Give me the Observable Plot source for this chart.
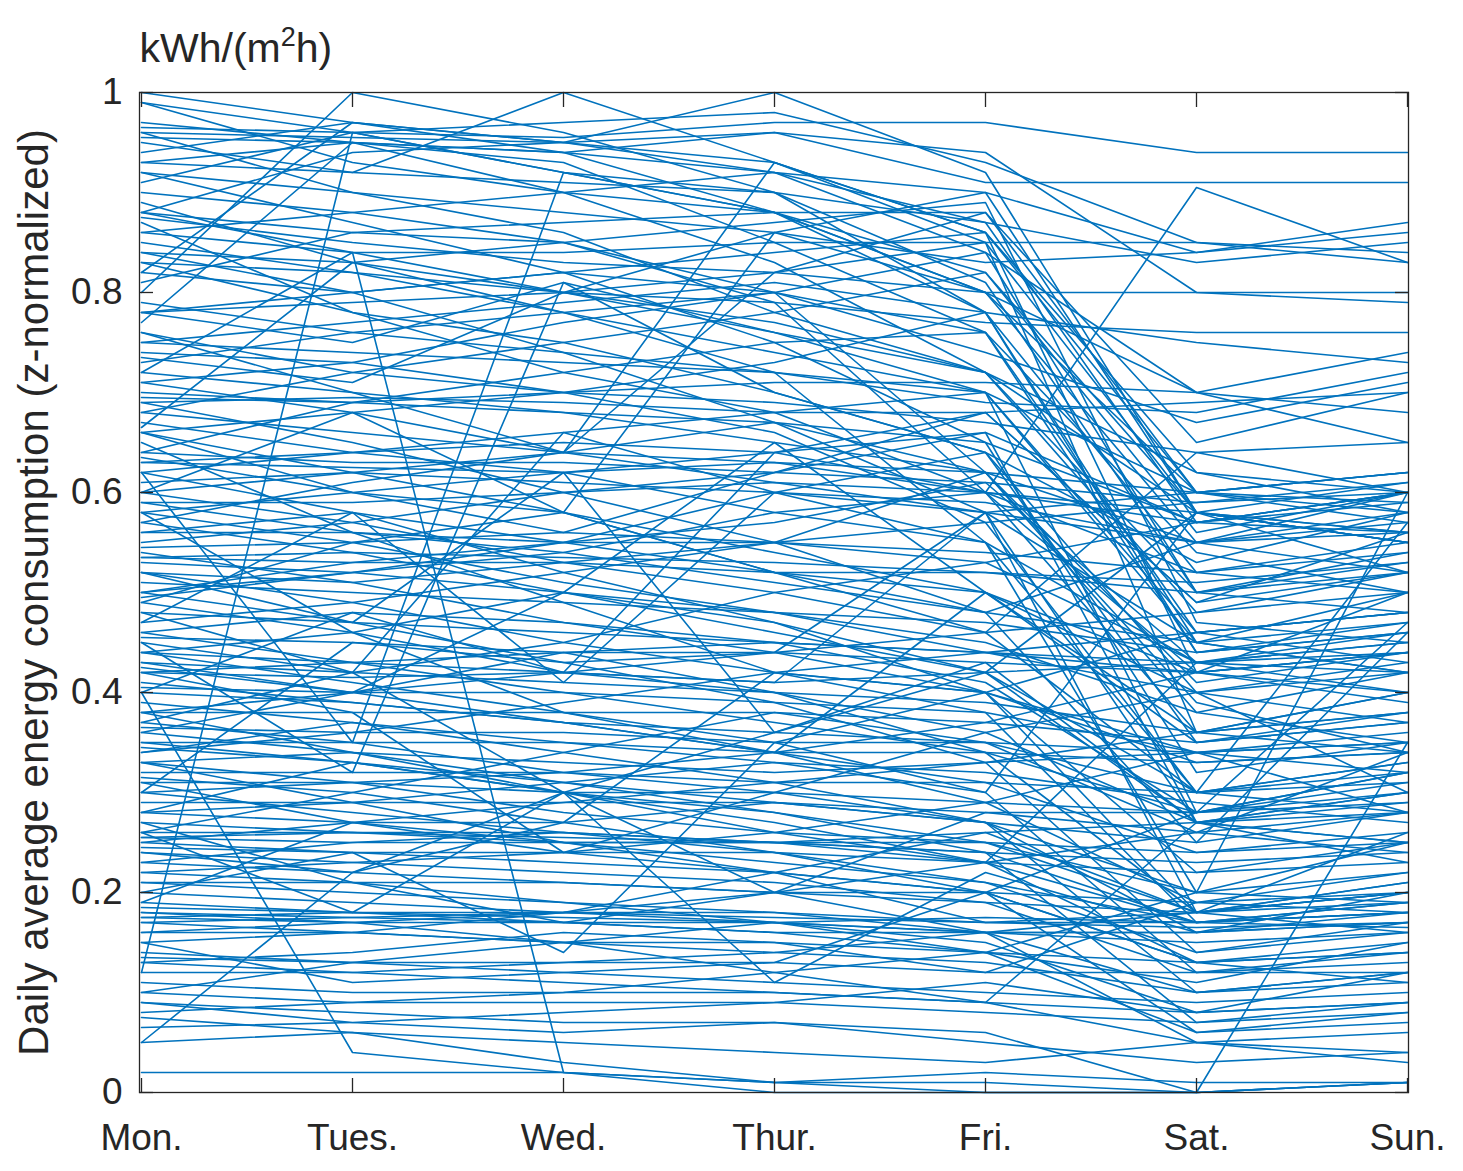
<!DOCTYPE html>
<html>
<head>
<meta charset="utf-8">
<script src="https://cdn.jsdelivr.net/npm/d3@7"></script>
<script src="https://cdn.jsdelivr.net/npm/@observablehq/plot@0.6"></script>
<style>
  html, body { margin: 0; padding: 0; background: #fff; }
  #chart svg { display: block; }
</style>
</head>
<body>
<div id="chart"></div>
<script>
const days = ["Mon.", "Tues.", "Wed.", "Thur.", "Fri.", "Sat.", "Sun."];
const yTicks = [0, 0.2, 0.4, 0.6, 0.8, 1];
const unitParts = ["kWh/(m", "2", "h)"];
const yLabel = "Daily average energy consumption (z-normalized)";

// one row per building: [Mon, Tues, Wed, Thur, Fri, Sat, Sun]
const series = [
  [1.00, 0.97, 0.95, 0.93, 0.86, 0.60, 0.58],
  [0.99, 0.93, 0.90, 0.88, 0.80, 0.55, 0.52],
  [0.965, 0.96, 0.955, 0.97, 0.97, 0.94, 0.94],
  [0.96, 0.955, 0.95, 0.96, 0.91, 0.91, 0.91],
  [0.955, 0.95, 0.94, 0.88, 0.80, 0.70, 0.68],
  [0.95, 0.92, 1.00, 0.93, 0.85, 0.58, 0.56],
  [0.93, 0.95, 0.90, 0.83, 0.72, 0.48, 0.50],
  [0.92, 0.90, 0.88, 0.86, 0.83, 0.84, 0.87],
  [0.91, 0.96, 0.92, 0.90, 0.78, 0.45, 0.42],
  [0.90, 0.88, 0.85, 0.80, 0.62, 0.38, 0.35],
  [0.89, 0.83, 0.80, 0.76, 0.70, 0.60, 0.62],
  [0.88, 0.94, 0.95, 1.00, 0.92, 0.58, 0.55],
  [0.875, 0.85, 0.83, 0.82, 0.80, 0.80, 0.80],
  [0.87, 0.78, 0.72, 0.68, 0.60, 0.42, 0.44],
  [0.86, 0.84, 0.84, 0.85, 0.85, 0.85, 0.84],
  [0.85, 0.82, 0.78, 0.72, 0.55, 0.20, 0.25],
  [0.84, 0.80, 0.74, 0.67, 0.58, 0.27, 0.23],
  [0.83, 0.82, 0.80, 0.79, 0.77, 0.76, 0.76],
  [0.82, 0.97, 0.94, 0.92, 0.87, 0.57, 0.60],
  [0.80, 1.00, 0.96, 0.90, 0.81, 0.50, 0.48],
  [0.79, 0.76, 0.74, 0.72, 0.69, 0.68, 0.72],
  [0.78, 0.75, 0.81, 0.70, 0.64, 0.40, 0.42],
  [0.77, 0.95, 0.93, 0.85, 0.76, 0.44, 0.47],
  [0.76, 0.72, 0.70, 0.69, 0.67, 0.64, 0.65],
  [0.75, 0.74, 0.73, 0.72, 0.70, 0.46, 0.48],
  [0.74, 0.73, 0.70, 0.66, 0.57, 0.30, 0.33],
  [0.735, 0.71, 0.80, 0.77, 0.72, 0.58, 0.55],
  [0.72, 0.70, 0.68, 0.65, 0.62, 0.55, 0.56],
  [0.71, 0.68, 0.64, 0.93, 0.86, 0.62, 0.60],
  [0.70, 0.69, 0.70, 0.71, 0.71, 0.70, 0.74],
  [0.695, 0.69, 0.68, 0.67, 0.65, 0.57, 0.60],
  [0.69, 0.65, 0.60, 0.55, 0.48, 0.25, 0.28],
  [0.67, 0.64, 0.62, 0.58, 0.55, 0.43, 0.45],
  [0.665, 0.83, 0.78, 0.74, 0.70, 0.45, 0.42],
  [0.66, 0.62, 0.58, 0.86, 0.80, 0.60, 0.62],
  [0.64, 0.63, 0.63, 0.62, 0.61, 0.59, 0.60],
  [0.635, 0.60, 0.58, 0.54, 0.50, 0.36, 0.38],
  [0.63, 0.64, 0.65, 0.64, 0.60, 0.52, 0.55],
  [0.62, 0.58, 0.52, 0.47, 0.40, 0.18, 0.20],
  [0.61, 0.62, 0.61, 0.60, 0.59, 0.55, 0.58],
  [0.60, 0.57, 0.53, 0.50, 0.46, 0.30, 0.33],
  [0.59, 0.59, 0.60, 0.61, 0.60, 0.58, 0.61],
  [0.58, 0.55, 0.51, 0.48, 0.45, 0.38, 0.42],
  [0.57, 0.54, 0.50, 0.46, 0.42, 0.27, 0.30],
  [0.56, 0.56, 0.55, 0.55, 0.54, 0.52, 0.54],
  [0.545, 0.55, 0.56, 0.55, 0.53, 0.43, 0.46],
  [0.54, 0.51, 0.47, 0.45, 0.41, 0.28, 0.31],
  [0.535, 0.53, 0.53, 0.52, 0.52, 0.51, 0.53],
  [0.52, 0.49, 0.45, 0.42, 0.38, 0.17, 0.19],
  [0.51, 0.50, 0.49, 0.48, 0.47, 0.44, 0.46],
  [0.50, 0.47, 0.43, 0.39, 0.33, 0.14, 0.16],
  [0.495, 0.52, 0.54, 0.58, 0.60, 0.57, 0.59],
  [0.49, 0.46, 0.42, 0.40, 0.36, 0.27, 0.29],
  [0.48, 0.47, 0.46, 0.45, 0.44, 0.43, 0.44],
  [0.47, 0.58, 0.55, 0.52, 0.50, 0.35, 0.37],
  [0.46, 0.43, 0.40, 0.37, 0.34, 0.18, 0.21],
  [0.455, 0.45, 0.44, 0.44, 0.43, 0.42, 0.44],
  [0.45, 0.42, 0.66, 0.60, 0.55, 0.30, 0.28],
  [0.44, 0.41, 0.38, 0.35, 0.30, 0.12, 0.14],
  [0.43, 0.42, 0.41, 0.40, 0.39, 0.36, 0.38],
  [0.425, 0.40, 0.37, 0.34, 0.29, 0.19, 0.18],
  [0.42, 0.43, 0.44, 0.45, 0.44, 0.42, 0.44],
  [0.41, 0.39, 0.37, 0.34, 0.31, 0.24, 0.26],
  [0.405, 0.40, 0.40, 0.39, 0.38, 0.34, 0.36],
  [0.39, 0.37, 0.34, 0.31, 0.27, 0.10, 0.12],
  [0.38, 0.38, 0.38, 0.38, 0.37, 0.35, 0.37],
  [0.37, 0.35, 0.32, 0.30, 0.27, 0.16, 0.18],
  [0.365, 0.36, 0.36, 0.35, 0.35, 0.34, 0.35],
  [0.36, 0.34, 0.31, 0.28, 0.24, 0.07, 0.09],
  [0.35, 0.35, 0.35, 0.34, 0.34, 0.33, 0.34],
  [0.345, 0.33, 0.30, 0.27, 0.23, 0.13, 0.15],
  [0.34, 0.36, 0.39, 0.42, 0.44, 0.46, 0.48],
  [0.33, 0.31, 0.28, 0.26, 0.23, 0.17, 0.19],
  [0.32, 0.32, 0.32, 0.31, 0.31, 0.30, 0.31],
  [0.315, 0.30, 0.27, 0.24, 0.20, 0.06, 0.08],
  [0.31, 0.31, 0.30, 0.30, 0.29, 0.28, 0.30],
  [0.30, 0.28, 0.26, 0.24, 0.21, 0.14, 0.17],
  [0.29, 0.29, 0.29, 0.29, 0.28, 0.28, 0.29],
  [0.28, 0.27, 0.25, 0.23, 0.21, 0.17, 0.18],
  [0.27, 0.26, 0.26, 0.25, 0.25, 0.24, 0.25],
  [0.26, 0.26, 0.25, 0.25, 0.24, 0.17, 0.18],
  [0.255, 0.25, 0.25, 0.25, 0.24, 0.23, 0.24],
  [0.25, 0.24, 0.23, 0.22, 0.20, 0.13, 0.14],
  [0.245, 0.24, 0.24, 0.24, 0.23, 0.22, 0.23],
  [0.24, 0.23, 0.22, 0.21, 0.19, 0.12, 0.13],
  [0.23, 0.22, 0.21, 0.20, 0.19, 0.18, 0.19],
  [0.22, 0.21, 0.19, 0.17, 0.15, 0.08, 0.09],
  [0.21, 0.21, 0.21, 0.20, 0.20, 0.19, 0.20],
  [0.20, 0.19, 0.18, 0.17, 0.16, 0.16, 0.17],
  [0.19, 0.18, 0.17, 0.16, 0.14, 0.06, 0.07],
  [0.185, 0.18, 0.18, 0.18, 0.17, 0.17, 0.18],
  [0.18, 0.175, 0.17, 0.17, 0.16, 0.16, 0.17],
  [0.175, 0.17, 0.17, 0.16, 0.16, 0.15, 0.16],
  [0.17, 0.16, 0.15, 0.14, 0.13, 0.10, 0.11],
  [0.16, 0.16, 0.15, 0.15, 0.14, 0.13, 0.14],
  [0.14, 0.13, 0.12, 0.11, 0.10, 0.09, 0.10],
  [0.135, 0.13, 0.13, 0.13, 0.12, 0.12, 0.12],
  [0.13, 0.12, 0.11, 0.10, 0.09, 0.05, 0.06],
  [0.11, 0.10, 0.10, 0.10, 0.09, 0.08, 0.09],
  [0.10, 0.09, 0.09, 0.09, 0.08, 0.07, 0.08],
  [0.09, 0.07, 0.06, 0.07, 0.05, 0.03, 0.04],
  [0.075, 0.06, 0.03, 0.01, 0.00, 0.00, 0.01],
  [0.05, 0.22, 0.30, 0.28, 0.25, 0.18, 0.20],
  [0.12, 0.96, 0.92, 0.88, 0.82, 0.58, 0.55],
  [0.88, 0.84, 0.02, 0.00, 0.00, 0.00, 0.01],
  [0.40, 0.04, 0.02, 0.01, 0.01, 0.00, 0.01],
  [0.26, 0.18, 0.30, 0.20, 0.16, 0.10, 0.12],
  [0.72, 0.84, 0.80, 0.86, 0.90, 0.58, 0.56],
  [0.45, 0.32, 0.81, 0.76, 0.72, 0.62, 0.58],
  [0.56, 0.58, 0.41, 0.60, 0.58, 0.45, 0.50],
  [0.30, 0.45, 0.43, 0.44, 0.58, 0.55, 0.60],
  [0.62, 0.35, 0.92, 0.88, 0.78, 0.52, 0.50],
  [0.20, 0.24, 0.14, 0.35, 0.40, 0.22, 0.25],
  [0.40, 0.48, 0.42, 0.64, 0.66, 0.57, 0.56],
  [0.52, 0.47, 0.62, 0.36, 0.42, 0.30, 0.32],
  [0.28, 0.33, 0.30, 0.11, 0.22, 0.16, 0.20],
  [0.18, 0.17, 0.15, 0.12, 0.09, 0.27, 0.30],
  [0.09, 0.08, 0.07, 0.07, 0.06, 0.00, 0.35],
  [0.60, 0.62, 0.64, 0.63, 0.60, 0.905, 0.83],
  [0.68, 0.66, 0.64, 0.82, 0.88, 0.65, 0.70],
  [0.34, 0.37, 0.35, 0.33, 0.30, 0.58, 0.52],
  [0.43, 0.40, 0.50, 0.65, 0.50, 0.40, 0.37],
  [0.15, 0.11, 0.12, 0.13, 0.20, 0.28, 0.32],
  [0.49, 0.55, 0.58, 0.52, 0.46, 0.64, 0.60],
  [0.24, 0.22, 0.27, 0.29, 0.27, 0.20, 0.60],
  [0.36, 0.40, 0.44, 0.40, 0.34, 0.28, 0.47],
  [0.58, 0.46, 0.38, 0.34, 0.50, 0.42, 0.39],
  [0.78, 0.80, 0.82, 0.80, 0.76, 0.54, 0.50],
  [0.66, 0.60, 0.56, 0.62, 0.68, 0.49, 0.52],
  [0.26, 0.30, 0.34, 0.38, 0.35, 0.26, 0.28],
  [0.48, 0.42, 0.30, 0.26, 0.25, 0.20, 0.22],
  [0.96, 0.90, 0.86, 0.78, 0.72, 0.50, 0.54],
  [0.81, 0.86, 0.85, 0.79, 0.60, 0.36, 0.40],
  [0.64, 0.69, 0.72, 0.75, 0.76, 0.46, 0.43],
  [0.33, 0.29, 0.25, 0.22, 0.20, 0.13, 0.11],
  [0.92, 0.87, 0.82, 0.75, 0.65, 0.32, 0.35],
  [0.19, 0.27, 0.24, 0.22, 0.17, 0.18, 0.21],
  [0.23, 0.25, 0.26, 0.25, 0.23, 0.43, 0.45],
  [0.37, 0.42, 0.45, 0.50, 0.53, 0.57, 0.60],
  [0.53, 0.52, 0.50, 0.48, 0.44, 0.40, 0.30],
  [0.83, 0.78, 0.75, 0.70, 0.64, 0.53, 0.58],
  [0.15, 0.16, 0.18, 0.22, 0.26, 0.18, 0.16],
  [0.05, 0.06, 0.05, 0.04, 0.03, 0.05, 0.03],
  [0.02, 0.02, 0.02, 0.01, 0.02, 0.01, 0.01],
  [0.76, 0.70, 0.64, 0.61, 0.58, 0.60, 0.62],
  [0.71, 0.73, 0.77, 0.80, 0.74, 0.67, 0.71],
  [0.99, 0.96, 0.97, 0.98, 0.93, 0.85, 0.83],
  [0.94, 0.97, 0.95, 0.92, 0.90, 0.84, 0.86],
  [0.86, 0.88, 0.90, 0.92, 0.84, 0.70, 0.65],
  [0.60, 0.68, 0.58, 0.52, 0.48, 0.55, 0.57],
  [0.42, 0.38, 0.24, 0.30, 0.36, 0.40, 0.43],
  [0.31, 0.27, 0.27, 0.42, 0.40, 0.34, 0.32],
  [0.44, 0.46, 0.50, 0.47, 0.42, 0.58, 0.55],
  [0.27, 0.21, 0.17, 0.20, 0.28, 0.26, 0.24],
  [0.13, 0.14, 0.16, 0.15, 0.12, 0.19, 0.22],
  [0.21, 0.20, 0.19, 0.18, 0.16, 0.05, 0.04],
  [0.38, 0.34, 0.30, 0.36, 0.43, 0.27, 0.25],
  [0.65, 0.56, 0.49, 0.42, 0.40, 0.46, 0.48],
  [0.50, 0.53, 0.55, 0.57, 0.61, 0.43, 0.40],
  [0.57, 0.61, 0.64, 0.67, 0.62, 0.39, 0.34],
  [0.17, 0.175, 0.18, 0.175, 0.17, 0.165, 0.17],
  [0.175, 0.18, 0.175, 0.17, 0.175, 0.17, 0.165],
  [0.255, 0.26, 0.255, 0.25, 0.26, 0.27, 0.28],
  [0.33, 0.34, 0.33, 0.32, 0.33, 0.34, 0.35],
  [0.42, 0.415, 0.42, 0.41, 0.42, 0.43, 0.42],
  [0.63, 0.625, 0.62, 0.63, 0.62, 0.60, 0.59],
  [0.69, 0.695, 0.69, 0.68, 0.68, 0.69, 0.70],
  [0.535, 0.54, 0.535, 0.53, 0.52, 0.50, 0.52],
  [0.10, 0.13, 0.15, 0.17, 0.14, 0.20, 0.19],
  [0.84, 0.83, 0.85, 0.87, 0.89, 0.47, 0.45],
  [0.82, 0.80, 0.82, 0.84, 0.86, 0.42, 0.40],
  [0.78, 0.79, 0.80, 0.82, 0.85, 0.36, 0.34],
  [0.73, 0.76, 0.78, 0.80, 0.84, 0.50, 0.53],
  [0.68, 0.72, 0.75, 0.78, 0.82, 0.56, 0.60],
  [0.88, 0.86, 0.87, 0.88, 0.88, 0.60, 0.57],
  [0.66, 0.68, 0.70, 0.73, 0.78, 0.44, 0.46],
  [0.62, 0.64, 0.66, 0.68, 0.70, 0.28, 0.32],
  [0.55, 0.57, 0.60, 0.62, 0.66, 0.27, 0.25],
  [0.50, 0.52, 0.55, 0.60, 0.64, 0.35, 0.38],
  [0.47, 0.49, 0.52, 0.55, 0.62, 0.41, 0.44],
  [0.58, 0.60, 0.62, 0.64, 0.68, 0.49, 0.56],
  [0.44, 0.43, 0.42, 0.41, 0.58, 0.18, 0.20],
  [0.40, 0.39, 0.37, 0.36, 0.35, 0.30, 0.57],
  [0.35, 0.33, 0.31, 0.29, 0.27, 0.25, 0.46],
  [0.30, 0.31, 0.32, 0.34, 0.37, 0.42, 0.50],
  [0.25, 0.27, 0.29, 0.31, 0.33, 0.36, 0.40],
  [0.22, 0.23, 0.24, 0.26, 0.29, 0.34, 0.28],
  [0.16, 0.17, 0.18, 0.20, 0.23, 0.26, 0.34],
  [0.12, 0.12, 0.13, 0.14, 0.16, 0.18, 0.26],
  [0.08, 0.09, 0.10, 0.12, 0.14, 0.11, 0.15],
  [0.065, 0.07, 0.08, 0.09, 0.11, 0.08, 0.12],
  [0.97, 0.95, 0.94, 0.96, 0.94, 0.80, 0.79],
  [0.93, 0.92, 0.91, 0.90, 0.87, 0.83, 0.85],
  [0.75, 0.77, 0.79, 0.81, 0.78, 0.75, 0.73],
  [0.52, 0.51, 0.53, 0.55, 0.57, 0.59, 0.61],
  [0.38, 0.40, 0.42, 0.44, 0.46, 0.48, 0.52],
  [0.28, 0.29, 0.31, 0.33, 0.32, 0.29, 0.27],
  [0.59, 0.56, 0.54, 0.51, 0.48, 0.45, 0.47],
  [0.46, 0.48, 0.47, 0.44, 0.40, 0.33, 0.34]
];

const rows = series.flatMap((s, i) => s.map((v, j) => ({id: i, day: days[j], v})));
const ink = "#262626";
const fs = 37;
const fsLabel = 42;
const unitText = unitParts.join("");

const chart = Plot.plot({
  width: 1463,
  height: 1171,
  marginLeft: 139,
  marginRight: 55,
  marginTop: 92,
  marginBottom: 79,
  style: {fontFamily: "'Liberation Sans', Arial, Helvetica, sans-serif", fontSize: fs + "px", color: ink, background: "#fff", overflow: "visible"},
  x: {type: "point", domain: days, padding: 0},
  y: {domain: [0, 1]},
  marks: [
    Plot.line(rows, {x: "day", y: "v", z: "id", stroke: "#0072BD", strokeWidth: 1.6}),
    Plot.frame({stroke: ink, strokeWidth: 1.3}),
    Plot.axisX({anchor: "bottom", tickSize: -14, tickFormat: () => "", stroke: ink, strokeWidth: 1.3, label: null}),
    Plot.axisX({anchor: "top", tickSize: -14, tickFormat: () => "", stroke: ink, strokeWidth: 1.3, label: null}),
    Plot.axisY({anchor: "left", ticks: yTicks, tickSize: -14, tickFormat: () => "", stroke: ink, strokeWidth: 1.3, label: null}),
    Plot.axisY({anchor: "right", ticks: yTicks, tickSize: -14, tickFormat: () => "", stroke: ink, strokeWidth: 1.3, label: null}),
    Plot.axisX({anchor: "bottom", tickSize: 0, tickPadding: 31, fill: ink, fontSize: fs, label: null}),
    Plot.axisY({anchor: "left", ticks: yTicks, tickSize: 0, tickPadding: 17, fill: ink, fontSize: fs, tickFormat: d3.format("~g"), label: null}),
    Plot.text([yLabel], {frameAnchor: "left", rotate: -90, dx: -105, fontSize: fsLabel, fill: ink, textAnchor: "middle"}),
    Plot.text([unitText], {frameAnchor: "top-left", textAnchor: "start", dy: -60, fontSize: 41, fill: ink})
  ]
});
document.getElementById("chart").append(chart);

// render the unit with a real superscript
d3.select(chart).selectAll("text").filter(function () { return this.textContent === unitText; })
  .each(function () {
    const t = d3.select(this);
    t.text(null);
    t.append("tspan").text(unitParts[0]);
    t.append("tspan").attr("font-size", 27).attr("dy", -16).text(unitParts[1]);
    t.append("tspan").attr("dy", 16).text(unitParts[2]);
  });
</script>
</body>
</html>
